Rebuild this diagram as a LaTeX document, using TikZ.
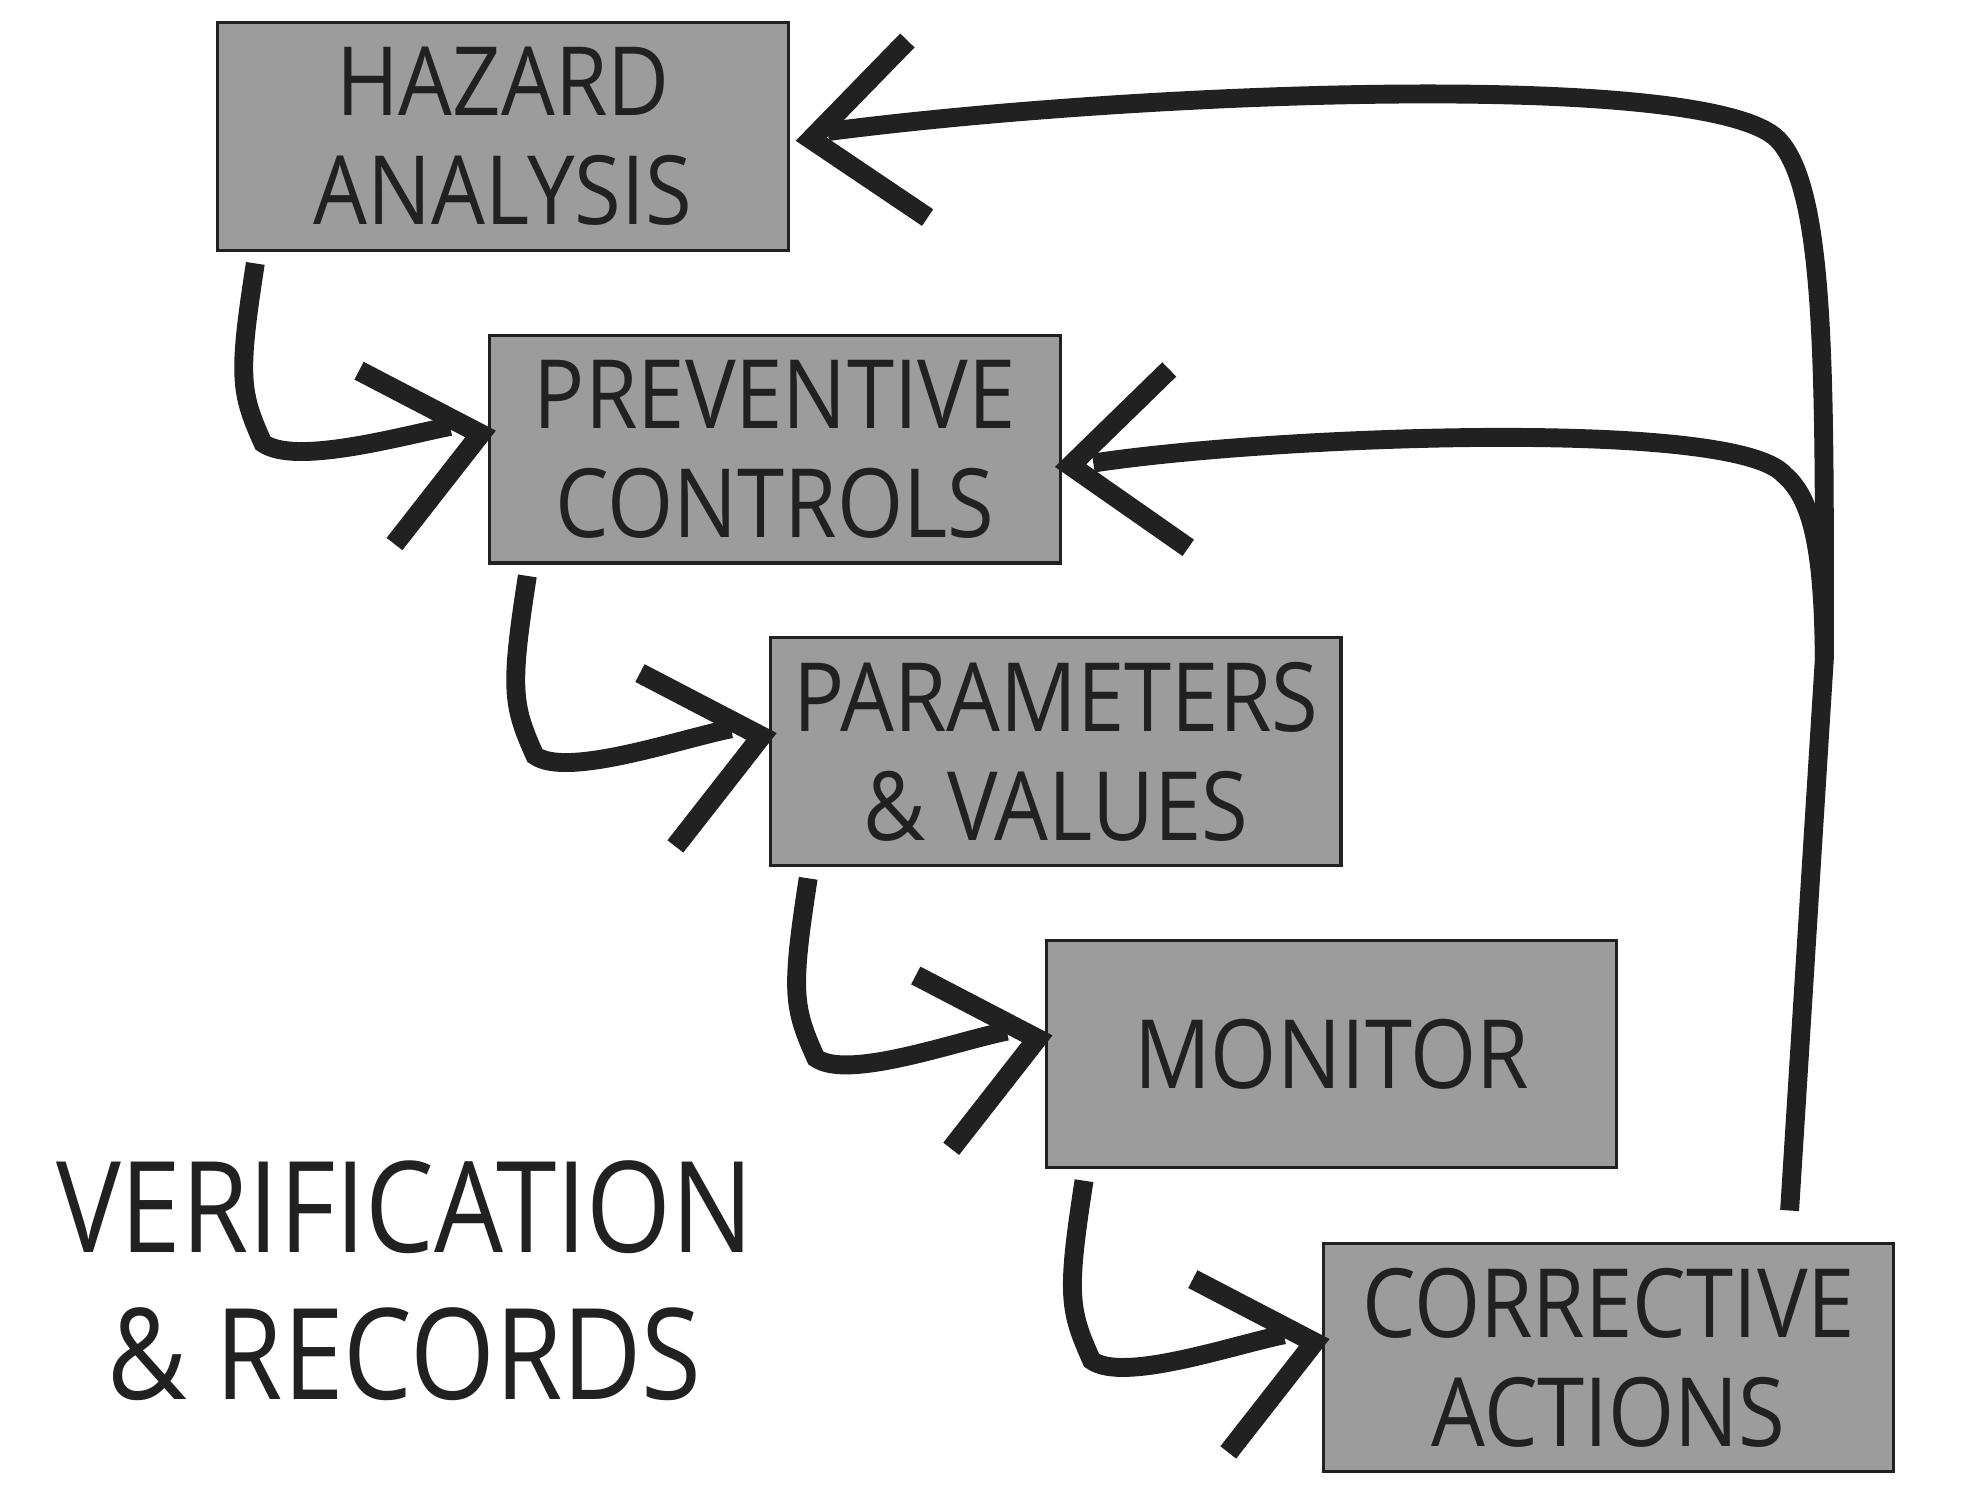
\documentclass[tikz,border=0pt]{standalone}
\usepackage{fontspec}
\setmainfont{Open Sans}
\usetikzlibrary{calc}
\begin{document}
\begin{tikzpicture}[x=0.02cm,y=-0.02cm,
  box/.style={draw=black!87,line width=1.4pt,fill=black!39,minimum width=9.02cm,minimum height=3.6cm,inner sep=0pt,align=center,text=black!87,font=\fontsize{43}{49}\selectfont},
  con/.style={draw=black!87,line width=8.5pt},
  chev/.style={draw=black!87,line width=9pt,line join=miter,miter limit=10}]
\useasboundingbox (0,0) rectangle (1565,1180);
\newcommand\nx[1]{\scalebox{0.89}[1]{#1}}
\newcommand\vx[1]{\scalebox{0.86}[1]{#1}}
\node[box] (h) at (397.5,108) {\nx{HAZARD}\\\nx{ANALYSIS}};
\node[box] (p) at (612.5,355) {\nx{PREVENTIVE}\\\nx{CONTROLS}};
\node[box] (v) at (834.5,594) {\nx{PARAMETERS}\\\nx{\& VALUES}};
\node[box] (m) at (1052.5,833) {\nx{MONITOR}};
\node[box] (c) at (1271.5,1073) {\nx{CORRECTIVE}\\\nx{ACTIONS}};
\node[text=black!87,align=center,font=\fontsize{57}{66}\selectfont] (vr) at (320,1012) {\vx{VERIFICATION}\\\vx{\& RECORDS}};
\newcommand\link[2]{%
  \draw[con] ($(#1.south west)+(31,9)$) .. controls +(-14,90) and +(-18,-40) .. ++(6,142)
     .. controls +(25,18) and +(-40,8) .. ($(#2.west)+(-30,-18)$);
  \draw[chev] ($(#2.west)+(-102,-62)$) -- ($(#2.west)+(-6,-12)$) -- ($(#2.west)+(-74,75)$);}
\link{h}{p}
\link{p}{v}
\link{v}{m}
\link{m}{c}
\coordinate (j) at (1442,520);
\draw[con] ($(c.north)+(143,-25)$) -- (j) .. controls (1442,300) and (1444,150) .. (1405,110)
   .. controls (1350,55) and (900,72) .. ($(h.east)+(30,-4)$);
\draw[con] (j) .. controls (1441,440) and (1434,395) .. (1410,375)
   .. controls (1370,330) and (1000,345) .. ($(p.east)+(25,11)$);
\draw[chev] ($(h.east)+(93,-76)$) -- ($(h.east)+(17,2)$) -- ($(h.east)+(109,64)$);
\draw[chev] ($(p.east)+(85,-63)$) -- ($(p.east)+(7,13)$) -- ($(p.east)+(100,78)$);
\end{tikzpicture}
\end{document}
